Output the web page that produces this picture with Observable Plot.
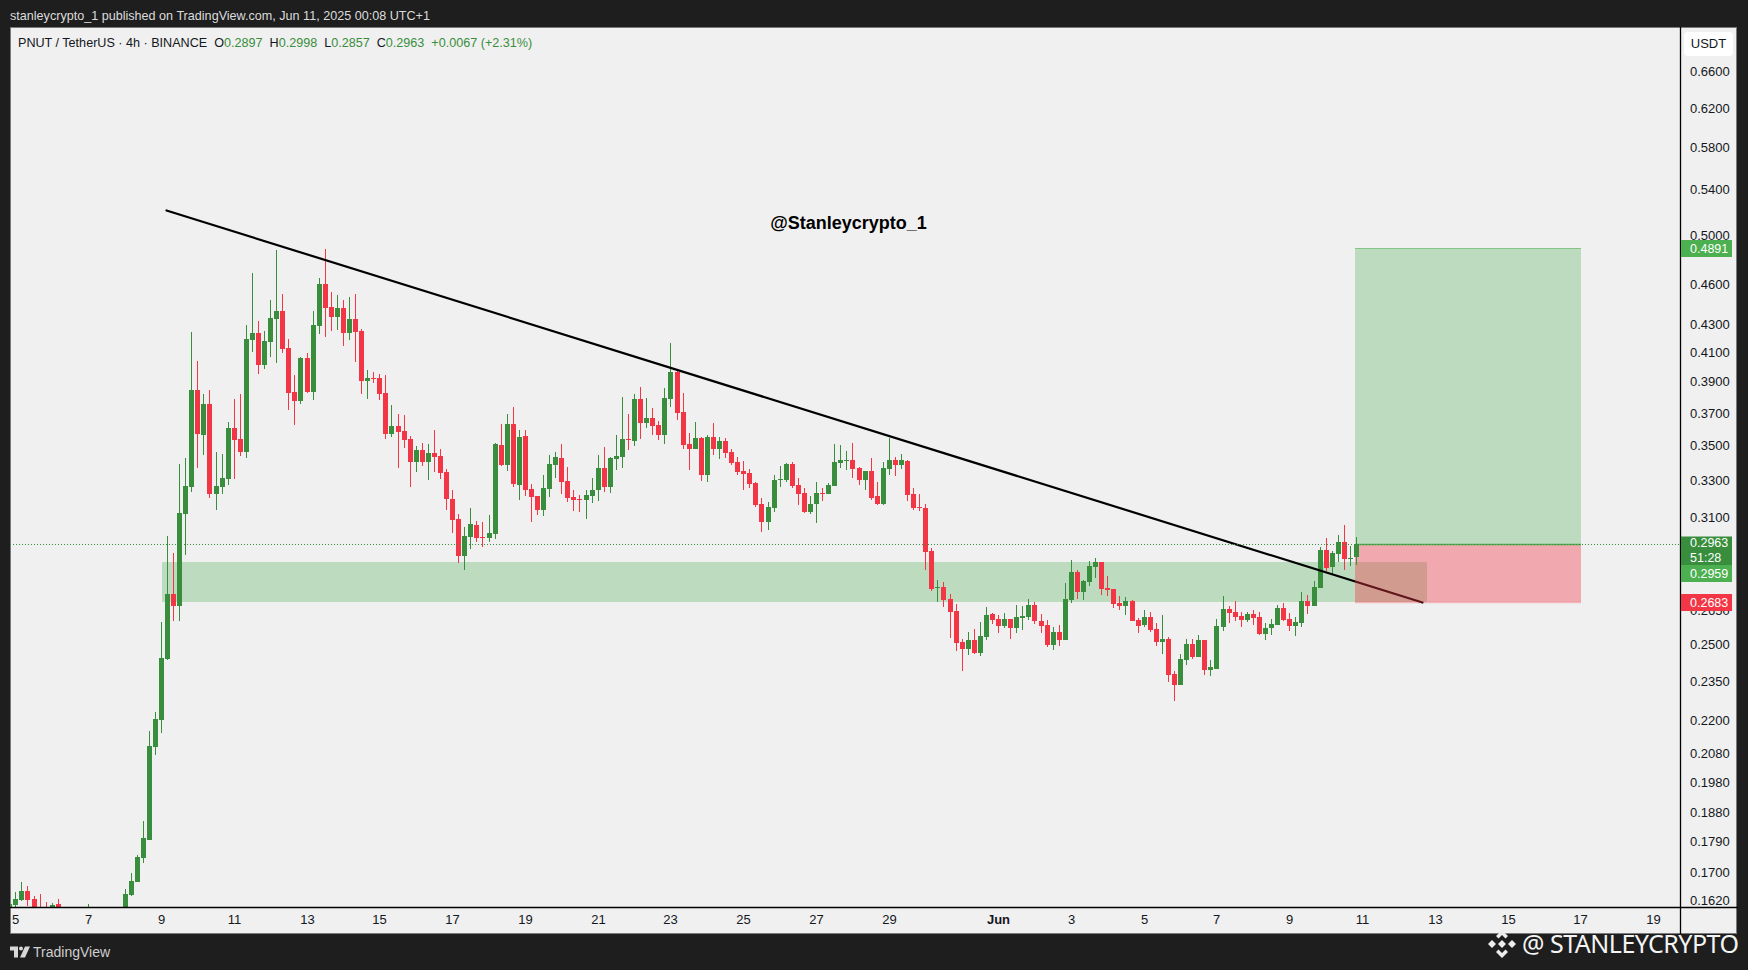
<!DOCTYPE html>
<html>
<head>
<meta charset="utf-8">
<script src="https://cdn.jsdelivr.net/npm/d3@7"></script>
<script src="https://cdn.jsdelivr.net/npm/@observablehq/plot@0.6"></script>
<style>
html,body{margin:0;padding:0;width:1748px;height:970px;overflow:hidden;background:#1e1e1e;font-family:"Liberation Sans",Arial,sans-serif}
#panel{position:absolute;left:10px;top:27px;width:1727px;height:907px;background:#f0f0f0;border:1px solid #7a7a7a;box-sizing:border-box}
#chart{position:absolute;left:0;top:0}
#pub{position:absolute;left:10px;top:8px;font-size:12.6px;line-height:16px;color:#dcdcdc;white-space:nowrap}
#legend{position:absolute;left:18px;top:35px;font-size:12.6px;line-height:16px;color:#131722;white-space:nowrap}
#legend b{font-weight:normal;color:#388e3c}
#legend i{font-style:normal;margin-left:7px}
#unit{position:absolute;left:1684px;top:32px;width:49px;height:24px;line-height:24px;background:#fff;border-radius:4px;text-align:center;font-size:13px;color:#131722}
#tv{position:absolute;left:10px;top:946px;height:13px}
#tvtext{position:absolute;left:33px;top:944px;font-size:14px;line-height:17px;color:#cfcfcf}
#bn{position:absolute;left:1487px;top:930px}
#wm{position:absolute;left:1522px;top:927px;font-family:"Noto Sans",sans-serif;font-size:25px;letter-spacing:-.5px;line-height:32px;color:#f4f4f4;white-space:nowrap}
</style>
</head>
<body>
<div id="panel"></div>
<div id="pub">stanleycrypto_1 published on TradingView.com, Jun 11, 2025 00:08 UTC+1</div>
<div id="legend">PNUT / TetherUS · 4h · BINANCE<i>O</i><b>0.2897</b><i>H</i><b>0.2998</b><i>L</i><b>0.2857</b><i>C</i><b>0.2963</b><b style="margin-left:7px">+0.0067 (+2.31%)</b></div>
<div id="chart"></div>
<div id="unit">USDT</div>
<svg id="tv" width="20" height="12" viewBox="0 0 20 12"><path fill="#d8d8d8" d="M0 0h8v11H4V4H0zM11 0a2 2 0 1 1 0 4 2 2 0 0 1 0-4zM15 0h5l-5 11h-5z"/></svg>
<div id="tvtext">TradingView</div>
<svg id="bn" width="30" height="28" viewBox="0 0 30 28"><g fill="#ececec"><path d="M15 0l6 6-2.500 2.500L15 5 11.500 8.500 9 6z"/><path d="M15 28l-6-6 2.500-2.500L15 23l3.500-3.500L21 22z"/><path d="M15 10l4 4-4 4-4-4z"/><path d="M5 10l4 4-4 4-4-4z"/><path d="M25 10l4 4-4 4-4-4z"/></g></svg>
<div id="wm">@ STANLEYCRYPTO</div>
<script>
// Candles every 4 hours; the first one opens May 4 20:00. null = below the visible range.
const firstBar = "2025-05-04T20:00Z";
const opens = [.1580,
.1607,.1621,.1646,.1624,.1598,.1590,.1580,.1610,null,null,
null,null,.1570,null,null,null,null,null,.1580,.1635,
.1671,.1740,.1794,.2100,.2198,.2437,.2721,.2666,.3116,.3262,
.3843,.3562,.3754,.3223,.3262,.3306,.3604,.3537,.3460,.4183,
.4232,.4010,.4169,.4334,.4394,.4127,.3830,.3773,.4058,.3830,
.4283,.4600,.4424,.4349,.4416,.4232,.4334,.4247,.3903,.3922,
.3922,.3824,.3568,.3616,.3586,.3537,.3403,.3473,.3403,.3455,
.3437,.3346,.3196,.3089,.2901,.2997,.3058,.2997,.2992,.3012,
.3502,.3386,.3629,.3272,.3555,.3251,.3212,.3137,.3251,.3386,
.3426,.3295,.3207,.3196,.3191,.3212,.3245,.3368,.3262,.3420,
.3432,.3537,.3525,.3785,.3635,.3666,.3622,.3562,.3785,.3963,
.3703,.3508,.3479,.3543,.3329,.3549,.3479,.3525,.3460,.3403,
.3352,.3340,.3284,.3169,.3074,.3148,.3300,.3300,.3391,.3272,
.3229,.3126,.3169,.3229,.3223,.3267,.3397,.3408,.3414,.3368,
.3300,.3352,.3212,.3169,.3363,.3414,.3386,.3408,.3223,.3153,
.3148,.2926,.2748,.2753,.2697,.2644,.2508,.2479,.2517,.2463,
.2530,.2631,.2609,.2578,.2609,.2569,.2613,.2617,.2671,.2600,
.2582,.2496,.2551,.2517,.2693,.2825,.2730,.2776,.2848,.2872,
.2748,.2744,.2680,.2666,.2689,.2604,.2582,.2617,.2564,.2508,
.2521,.2376,.2333,.2433,.2500,.2446,.2517,.2392,.2396,.2573,
.2652,.2639,.2622,.2604,.2631,.2617,.2543,.2569,.2582,.2657,
.2609,.2578,.2591,.2689,.2666,.2748,.2931,.2848,.2912,.2972,
.2887,.2897];
const highs = [.1612,
.1643,.1671,.1660,.1632,.1638,.1615,.1612,.1624,null,null,
null,null,.1610,null,null,null,null,null,.1651,.1695,
.1749,.1853,.2158,.2227,.2597,.3000,.2917,.3391,.3426,.4240,
.4037,.3817,.3843,.3460,.3449,.3641,.3785,.3817,.4290,.4686,
.4320,.4247,.4476,.4872,.4522,.4190,.3943,.4065,.4092,.4394,
.4647,.4880,.4538,.4515,.4476,.4499,.4522,.4261,.3976,.3963,
.3950,.3943,.3747,.3691,.3685,.3555,.3496,.3514,.3508,.3592,
.3479,.3363,.3245,.3116,.3048,.3148,.3079,.3074,.3110,.3514,
.3629,.3691,.3735,.3592,.3592,.3278,.3212,.3329,.3444,.3460,
.3508,.3374,.3245,.3218,.3245,.3311,.3444,.3490,.3432,.3562,
.3798,.3691,.3817,.3863,.3791,.3729,.3647,.3856,.4162,.3983,
.3824,.3574,.3641,.3549,.3562,.3635,.3549,.3543,.3479,.3432,
.3408,.3363,.3289,.3202,.3180,.3329,.3380,.3397,.3403,.3311,
.3256,.3212,.3289,.3256,.3284,.3508,.3502,.3467,.3514,.3374,
.3352,.3426,.3289,.3403,.3543,.3432,.3449,.3412,.3256,.3223,
.3169,.2941,.2786,.2776,.2721,.2675,.2521,.2551,.2564,.2595,
.2662,.2635,.2626,.2635,.2609,.2671,.2666,.2697,.2684,.2631,
.2604,.2572,.2582,.2772,.2882,.2834,.2786,.2877,.2891,.2872,
.2805,.2744,.2711,.2707,.2693,.2613,.2648,.2639,.2591,.2626,
.2530,.2388,.2458,.2521,.2521,.2538,.2517,.2433,.2609,.2711,
.2666,.2689,.2639,.2639,.2648,.2639,.2591,.2609,.2671,.2680,
.2635,.2617,.2730,.2716,.2781,.2946,.2992,.2926,.3007,.3058,
.2951,.2998];
const lows = [.1570,
.1595,.1618,.1604,.1570,.1570,.1570,.1570,.1570,null,null,
null,null,.1560,null,null,null,null,null,.1570,.1632,
.1671,.1725,.1794,.2072,.2150,.2433,.2600,.2600,.2906,.3234,
.3368,.3444,.3202,.3137,.3223,.3272,.3306,.3437,.3426,.4099,
.3950,.3983,.4065,.4023,.4092,.3716,.3622,.3754,.3824,.3779,
.4225,.4204,.4247,.4254,.4141,.4183,.4030,.3817,.3785,.3889,
.3779,.3537,.3549,.3368,.3484,.3262,.3346,.3380,.3300,.3346,
.3306,.3137,.3016,.2867,.2834,.2936,.2972,.2946,.2972,.2987,
.3380,.3352,.3262,.3191,.3212,.3074,.3110,.3105,.3207,.3311,
.3223,.3180,.3132,.3126,.3089,.3175,.3186,.3234,.3229,.3357,
.3368,.3473,.3496,.3537,.3604,.3562,.3531,.3508,.3735,.3653,
.3479,.3357,.3479,.3295,.3289,.3444,.3420,.3426,.3386,.3329,
.3245,.3256,.3153,.3022,.3032,.3126,.3262,.3289,.3256,.3164,
.3121,.3116,.3069,.3186,.3223,.3267,.3368,.3357,.3311,.3272,
.3245,.3191,.3164,.3165,.3329,.3323,.3363,.3186,.3137,.3132,
.2834,.2734,.2684,.2662,.2526,.2471,.2388,.2454,.2458,.2450,
.2517,.2587,.2547,.2569,.2521,.2547,.2560,.2604,.2587,.2547,
.2487,.2475,.2491,.2517,.2680,.2697,.2693,.2758,.2795,.2716,
.2711,.2657,.2648,.2626,.2600,.2547,.2573,.2551,.2491,.2458,
.2344,.2270,.2333,.2412,.2437,.2446,.2372,.2368,.2396,.2556,
.2591,.2600,.2573,.2595,.2582,.2538,.2517,.2538,.2582,.2600,
.2556,.2534,.2573,.2631,.2666,.2748,.2829,.2815,.2872,.2834,
.2853,.2857];
const closes = [.1610,
.1624,.1646,.1621,.1580,.1585,.1580,.1607,.1580,null,null,
null,null,.1590,null,null,null,null,null,.1638,.1674,
.1743,.1800,.2104,.2201,.2441,.2721,.2666,.3121,.3267,.3843,
.3568,.3754,.3223,.3267,.3311,.3604,.3531,.3460,.4190,.4232,
.4010,.4176,.4342,.4394,.4120,.3824,.3773,.4058,.3830,.4290,
.4600,.4416,.4349,.4416,.4232,.4334,.4240,.3903,.3922,.3915,
.3817,.3568,.3616,.3580,.3531,.3403,.3473,.3403,.3455,.3432,
.3340,.3196,.3084,.2901,.3002,.3063,.2992,.2991,.3016,.3508,
.3386,.3629,.3278,.3549,.3245,.3207,.3137,.3256,.3391,.3432,
.3289,.3202,.3191,.3190,.3218,.3245,.3368,.3262,.3426,.3437,
.3537,.3531,.3785,.3635,.3666,.3616,.3562,.3791,.3963,.3697,
.3502,.3479,.3543,.3329,.3549,.3479,.3525,.3455,.3397,.3346,
.3335,.3278,.3164,.3074,.3153,.3300,.3306,.3391,.3267,.3223,
.3126,.3169,.3229,.3223,.3272,.3403,.3414,.3414,.3363,.3300,
.3352,.3202,.3169,.3368,.3414,.3386,.3414,.3218,.3148,.3146,
.2921,.2744,.2753,.2693,.2639,.2504,.2479,.2517,.2463,.2534,
.2626,.2604,.2578,.2609,.2569,.2617,.2622,.2671,.2600,.2578,
.2496,.2551,.2517,.2697,.2825,.2730,.2781,.2853,.2872,.2744,
.2739,.2675,.2666,.2689,.2600,.2578,.2617,.2560,.2508,.2521,
.2372,.2333,.2437,.2500,.2446,.2517,.2392,.2404,.2578,.2652,
.2635,.2617,.2604,.2631,.2613,.2543,.2569,.2587,.2657,.2604,
.2578,.2595,.2689,.2666,.2753,.2931,.2843,.2917,.2972,.2887,
.2893,.2963];

const priceTicks = [.66,.62,.58,.54,.50,.46,.43,.41,.39,.37,.35,.33,.31,.265,.25,.235,.22,.208,.198,.188,.179,.17,.162];
const dayTicks = ["2025-05-05","2025-05-07","2025-05-09","2025-05-11","2025-05-13","2025-05-15","2025-05-17","2025-05-19","2025-05-21","2025-05-23","2025-05-25","2025-05-27","2025-05-29","2025-06-03","2025-06-05","2025-06-07","2025-06-09","2025-06-11","2025-06-13","2025-06-15","2025-06-17","2025-06-19"];
const monthTicks = ["2025-06-01"];

const viewDates = ["2025-05-04T20:30Z","2025-06-19T17:37Z"];
const viewPrices = [0.16015,0.7108];
const trendDates = ["2025-05-09T03:20Z","2025-06-12T15:20Z"];
const trendPrices = [0.5218,0.2684];
const zoneDates = ["2025-05-09T00:44Z","2025-06-12T18:40Z"];
const zonePrices = [0.2684,0.2872];
const tradeDates = ["2025-06-10T19:00Z","2025-06-17T00:15Z"];
const target = 0.4891, entry = 0.2963, stop = 0.2683, marketPrice = 0.2959;
const countdown = "51:28";
const author = "@Stanleycrypto_1";
const authorDate = "2025-05-27T21:00Z", authorPrice = 0.5097;

const GREEN = "#388e3c", RED = "#f23645", LIGHT = "#4caf50";
const d = s => new Date(s);
const t0 = +d(firstBar);
const bars = opens.map((o,i)=>({date:new Date(t0+i*4*3600e3),open:o,high:highs[i],low:lows[i],close:closes[i]})).filter(b=>b.open!=null);
const tone = b => b.close>=b.open ? GREEN : RED;
const candles = data => [
  Plot.ruleX(data,{x:"date",y1:"low",y2:"high",stroke:tone,strokeWidth:1,clip:true}),
  Plot.ruleX(data,{x:"date",y1:"open",y2:"close",stroke:tone,strokeWidth:5,clip:true})
];
const tagFont = {frameAnchor:"right",dx:9.5,textAnchor:"start",fill:"#fff",fontSize:12.5};
const tag = (price,color,opts={}) => Plot.ruleY([price],{stroke:color,strokeWidth:17,insetLeft:1671,insetRight:-52,...opts});
const label = (price,text,opts={}) => Plot.text([price],{y:p=>p,text:()=>text,...tagFont,...opts});

const plot = Plot.plot({
  width:1748,height:970,
  marginLeft:10,marginRight:68,marginTop:27,marginBottom:63,
  style:{background:"transparent",fontFamily:"'Liberation Sans',Arial,sans-serif",overflow:"visible"},
  x:{type:"utc",domain:viewDates.map(d),round:true,axis:null},
  y:{type:"log",domain:viewPrices,round:true,axis:null},
  color:{type:"identity"},
  marks:[
    Plot.rect([0],{x1:()=>d(zoneDates[0]),x2:()=>d(zoneDates[1]),y1:()=>zonePrices[0],y2:()=>zonePrices[1],fill:LIGHT,fillOpacity:.31}),
    ...candles(bars.slice(0,-1)),
    Plot.line(trendDates.map((t,i)=>({t:d(t),p:trendPrices[i]})),{x:"t",y:"p",stroke:"#000",strokeWidth:2.2}),
    Plot.rect([0],{x1:()=>d(tradeDates[0]),x2:()=>d(tradeDates[1]),y1:()=>entry,y2:()=>target,fill:LIGHT,fillOpacity:.31}),
    Plot.rect([0],{x1:()=>d(tradeDates[0]),x2:()=>d(tradeDates[1]),y1:()=>stop,y2:()=>entry,fill:RED,fillOpacity:.39}),
    Plot.ruleY([entry],{x1:()=>d(tradeDates[0]),x2:()=>d(tradeDates[1]),stroke:LIGHT,strokeWidth:1.5}),
    Plot.ruleY([target],{x1:()=>d(tradeDates[0]),x2:()=>d(tradeDates[1]),stroke:LIGHT,strokeOpacity:.5}),
    Plot.ruleY([stop],{x1:()=>d(tradeDates[0]),x2:()=>d(tradeDates[1]),stroke:RED,strokeOpacity:.3,strokeWidth:1.5}),
    ...candles(bars.slice(-1)),
    Plot.ruleY([entry],{stroke:GREEN,strokeWidth:1,strokeDasharray:"1 2"}),
    Plot.text([author],{x:()=>d(authorDate),y:()=>authorPrice,text:a=>a,fontSize:18,fontWeight:"bold",fill:"#000"}),
    Plot.ruleY([viewPrices[0]],{stroke:"#000",strokeWidth:1.3,insetRight:-58}),
    Plot.ruleX([d(viewDates[1])],{stroke:"#000",strokeWidth:1.3,insetBottom:-27}),
    Plot.axisY(priceTicks,{anchor:"right",tickSize:0,tickPadding:9.5,tickFormat:d3.format(".4f"),fontSize:13,fill:"#131722",label:null}),
    Plot.axisX(dayTicks.map(d),{anchor:"bottom",tickSize:0,tickPadding:7,tickFormat:d3.utcFormat("%-d"),fontSize:13,fill:"#131722",label:null}),
    Plot.axisX(monthTicks.map(d),{anchor:"bottom",tickSize:0,tickPadding:7,tickFormat:d3.utcFormat("%b"),fontSize:13,fontWeight:"bold",fill:"#131722",label:null}),
    tag(target,LIGHT),label(target,"0.4891"),
    tag(entry,GREEN,{strokeWidth:30,dy:7}),label(entry,"0.2963",{dy:-1.5}),label(entry,countdown,{dy:13.5}),
    tag(marketPrice,LIGHT,{dy:29}),label(marketPrice,"0.2959",{dy:29}),
    tag(stop,RED),label(stop,"0.2683")
  ]
});
document.getElementById("chart").append(plot);
</script>
</body>
</html>
